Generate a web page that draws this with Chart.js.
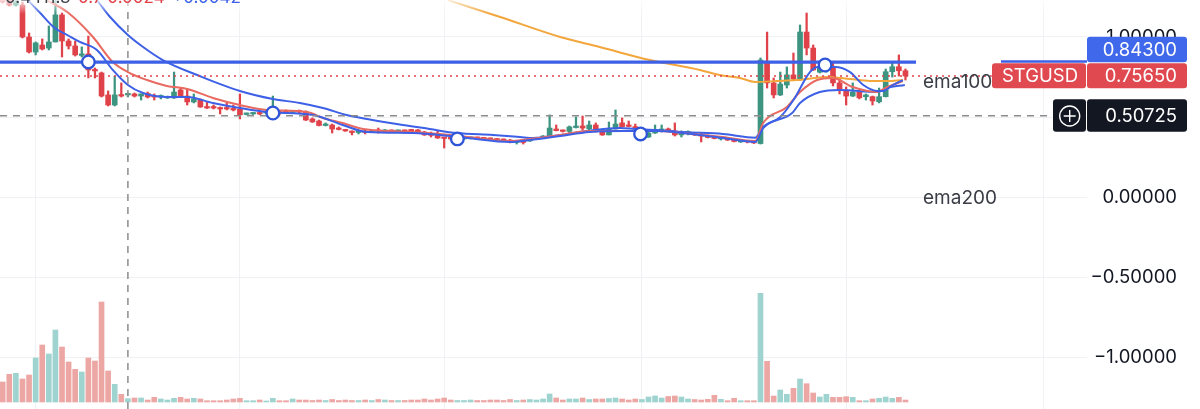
<!DOCTYPE html>
<html><head><meta charset="utf-8">
<style>html,body{margin:0;padding:0;background:#fff;overflow:hidden}canvas{display:block}</style>
<script src="https://cdn.jsdelivr.net/npm/chart.js@4/dist/chart.umd.min.js"></script>
</head><body>
<canvas id="c" width="1200" height="409" style="width:1200px;height:409px"></canvas>
<script>
const opens=[1.231,1.238,1.2,1.2,1.0,.906,.95,.931,.969,1.138,.975,.944,.885,.894,.794,.775,.638,.575,.638,.638,.644,.631,.647,.631,.625,.619,.619,.669,.631,.594,.606,.563,.563,.556,.556,.55,.55,.516,.519,.525,.525,.525,.531,.535,.528,.538,.531,.488,.475,.447,.45,.428,.419,.41,.403,.41,.406,.416,.41,.416,.41,.416,.419,.419,.406,.391,.394,.372,.369,.363,.363,.366,.372,.369,.366,.363,.36,.356,.341,.347,.35,.363,.369,.381,.425,.416,.41,.434,.444,.425,.45,.41,.388,.425,.463,.447,.44,.4,.375,.4,.41,.422,.413,.388,.4,.394,.388,.378,.372,.363,.363,.353,.344,.35,.344,.334,.844,.713,.638,.7,.763,.738,1.031,.931,.78,.79,.806,.713,.665,.631,.656,.627,.627,.595,.627,.783,.814,.789];
const closes=[1.219,1.2,1.219,1.0,.906,.963,.925,.969,1.138,.975,.944,.888,.891,.794,.788,.631,.575,.638,.631,.644,.631,.644,.625,.625,.631,.625,.656,.631,.594,.613,.563,.556,.556,.55,.55,.544,.513,.522,.525,.519,.531,.544,.525,.528,.535,.531,.481,.469,.447,.453,.425,.422,.413,.403,.41,.403,.413,.41,.416,.41,.416,.41,.413,.4,.388,.385,.369,.366,.363,.369,.369,.372,.366,.363,.36,.356,.353,.344,.347,.341,.363,.369,.381,.431,.415,.41,.438,.441,.431,.45,.41,.388,.425,.456,.44,.441,.425,.419,.4,.413,.425,.416,.388,.394,.406,.388,.381,.372,.366,.369,.356,.347,.35,.344,.338,.856,.713,.638,.706,.763,.738,1.031,.931,.794,.81,.82,.713,.669,.631,.656,.62,.638,.6,.627,.783,.814,.789,.7565];
const highs=[1.244,1.25,1.244,1.219,1.025,.969,.988,1.069,1.231,1.15,.988,.975,.938,1.006,.806,.781,.663,.756,.713,.65,.65,.644,.656,.644,.638,.631,.781,.681,.675,.644,.613,.594,.575,.563,.588,.575,.644,.525,.528,.531,.538,.631,.538,.544,.541,.544,.538,.494,.481,.463,.456,.438,.422,.413,.419,.419,.416,.431,.422,.419,.419,.419,.422,.422,.41,.406,.413,.372,.375,.375,.372,.375,.375,.372,.369,.366,.363,.36,.35,.35,.366,.372,.384,.513,.45,.419,.444,.5,.506,.475,.463,.413,.469,.544,.494,.475,.456,.425,.406,.45,.45,.431,.463,.413,.413,.4,.4,.388,.378,.372,.369,.356,.353,.353,.347,.869,1.031,.744,.781,.813,.9,1.075,1.15,.95,.85,.85,.844,.744,.688,.713,.669,.644,.631,.681,.8,.844,.888,.8];
const lows=[1.213,1.194,1.194,.994,.9,.888,.919,.919,.969,.875,.925,.881,.875,.744,.744,.625,.569,.569,.625,.625,.625,.606,.619,.606,.613,.616,.616,.625,.575,.588,.56,.553,.55,.519,.544,.538,.488,.513,.516,.513,.519,.519,.513,.525,.525,.525,.478,.466,.444,.444,.4,.419,.41,.388,.394,.394,.403,.4,.406,.406,.406,.406,.41,.397,.385,.375,.366,.306,.356,.356,.36,.363,.363,.36,.356,.353,.35,.338,.331,.331,.347,.36,.366,.381,.413,.406,.4,.431,.419,.419,.406,.385,.388,.425,.438,.438,.413,.394,.372,.397,.406,.413,.381,.375,.388,.384,.344,.369,.363,.356,.353,.344,.341,.338,.334,.331,.681,.619,.634,.681,.731,.731,.888,.791,.775,.78,.694,.644,.575,.628,.613,.606,.575,.588,.625,.75,.756,.731];
const volumes=[20,27.7,28.7,23,27,44,57,48,72,55,40,32.7,30,44,41,100,31,17.7,7.7,3.3,4,4,2,4.7,3,2,3.7,4.7,3,3.7,3,1.3,1.3,1.3,2,3,3.7,1.3,1.3,2,1,3.7,1.3,1.3,3,2,2,1.5,2,1.5,2.5,1.5,2,1.5,1.5,2,1.5,2.5,2,1.5,1.5,1.5,2,2,3,2,3,4,2,1.5,1.5,2,1.5,1.5,2,2,1.5,2.5,1.5,2,2.5,2,3,8,4,2,3,3,4,2.5,3,3,3.5,4,3,2,3,2.5,5,6,4,5.5,6,5,3,2.5,2,2.7,6.7,2.7,1.3,3.7,1.3,1.3,1.3,108.7,40.7,6,12,7.7,13.7,23,18.3,9,5,7.7,4.7,4.7,5.3,4.7,1.3,1.3,3,3.7,5,3.7,4.7,2];
const slowX=[14.3,16.3,19,21.3,24.3,29.9,36,41,45.1,48.6,52.2,55.3,59.8,64.8,68.9,74.4,78.5,80.5,84.6,88.7,93.7,96,99.3,103.2,109.3,114.2,115.4,119.8,121,124,127,132.7,134.2,136.9];
const slowY=[1.231,1.125,1.0125,.9375,.856,.756,.6625,.6125,.5875,.556,.5125,.4875,.456,.425,.4,.3875,.375,.369,.3875,.4125,.431,.425,.419,.406,.394,.371,.4375,.525,.5875,.656,.669,.656,.681,.7];
const redX=[6.7,9.8,13.7,16.7,19,21.9,24.9,28,31.9,36,40.1,46.2,48.6,51.6,54.7,62.3,67.9,70.5,77,80,84.6,89.1,95.2,99.3,103.2,109.3,114.2,115.4,119,121,123.6,126,129,132.7,133.9,136.6];
const redY=[1.231,1.156,1.0,.844,.781,.731,.694,.675,.619,.575,.544,.531,.494,.4625,.425,.406,.3875,.375,.35,.3625,.3875,.4125,.4125,.4125,.4,.375,.35,.4625,.5625,.656,.731,.744,.6875,.656,.681,.725];
const fastX=[3.8,5.7,7.9,9.8,11.7,14.3,16.7,19,21.3,24.9,28,31.9,36,40.1,47.1,51.6,55.3,62.3,67.9,70.5,77,80,84.6,89.1,94.1,99.3,103.2,109.3,114.2,115.4,118,120,122.5,123.7,126.3,128.6,130.6,132.8,133.6,135.1,136.6];
const fastY=[1.231,1.15,1.056,1.0125,.969,.919,.794,.7,.65,.625,.625,.5875,.556,.531,.5125,.45,.406,.4,.381,.369,.344,.356,.381,.406,.4125,.4125,.4,.369,.344,.431,.5,.606,.781,.8125,.8125,.781,.7,.6625,.6625,.7,.731];
const orangeX=[67.6,75.5,84.6,90.6,98.2,105.8,108.8,111.9,114.2,117.5,120.5,125.1,128.6,131.6,134.2,136.6];
const orangeY=[1.231,1.125,1.0,.9375,.856,.794,.7625,.744,.719,.725,.731,.75,.7375,.725,.725,.731];
const markerX=[13,41,69,96.8,124.8];
const markerY=[.844,.525,.363,.394,.825];
const tickLabelsY=[1,.5,0,-.5,-1];
const gridX=[5,36,67,97,128,158];
const targetPrice=.843, lastPrice=.7565, crossPrice=.50725, crossIndex=19;
const symbol="STGUSD";
const X0=-0.41,X1=164.55,Y0=-1.325,Y1=1.23125;
const pts=(xs,ys)=>xs.map((x,i)=>({x,y:ys[i]}));
const idx=opens.map((_,i)=>i);
const up=idx.map(i=>closes[i]>=opens[i]);
const GREEN='#3c9481',RED='#e0424a',BLUE='#3d60e6';
const lineDs=(data,color,w,order,extra)=>Object.assign({type:'line',data,borderColor:color,borderWidth:w,pointRadius:0,fill:false,order,xAxisID:'x',yAxisID:'y',clip:false},extra||{});
const fade={id:'fade',afterDatasetsDraw(ch){const c=ch.ctx;const g=c.createLinearGradient(0,0,0,14);g.addColorStop(0,'rgba(255,255,255,.8)');g.addColorStop(1,'rgba(255,255,255,0)');c.fillStyle=g;c.fillRect(0,0,1087,14);}};
function box(c,x,y,w,h,col){c.fillStyle=col;c.beginPath();c.roundRect(x,y,w,h,3);c.fill();}
const over={id:'over',afterDraw(ch){const c=ch.ctx;c.save();
c.textBaseline='alphabetic';c.textAlign='left';
c.font='17px Inter';
c.fillStyle='#3b3f4a';c.fillText('0.4 H1.3',5,3);
c.fillStyle='#e0424a';c.fillText('0.7 0.0024',78,3);
c.fillStyle='#3d60e6';c.fillText('+0.0042',172,3);
c.font='19px Inter';c.fillStyle='#3a3d45';c.textBaseline='middle';
c.fillText('ema100',923,82.5);c.fillText('ema200',923,198.5);
box(c,1087,36.7,100,25.6,'#3f68ea');
box(c,992,63.3,94,25,'#e0494f');box(c,1087,63.3,100,25,'#e0494f');
box(c,1053,99.3,33,32.4,'#131722');box(c,1087,99.3,100,32.4,'#131722');
c.font='18.5px Inter';c.fillStyle='#fff';c.textAlign='right';
c.fillText(targetPrice.toFixed(5),1177,50);
c.fillText(lastPrice.toFixed(5),1177,76.5);
c.fillText(crossPrice.toFixed(5),1177,116.5);
c.textAlign='left';c.fillText(symbol,1002,76.5);
c.strokeStyle='#fff';c.lineWidth=1.4;c.beginPath();c.arc(1069.7,116,10,0,Math.PI*2);c.moveTo(1063.7,116);c.lineTo(1075.7,116);c.moveTo(1069.7,110);c.lineTo(1069.7,122);c.stroke();
c.restore();}};
new Chart(document.getElementById('c'),{
type:'bar',
data:{datasets:[
{label:'volume',data:pts(idx,volumes),backgroundColor:up.map(u=>u?'#9fd3cf':'#eca6a3'),barThickness:5,minBarLength:1,grouped:false,order:20,xAxisID:'x',yAxisID:'v'},
{label:'wick',data:idx.map(i=>({x:i,y:[lows[i],highs[i]]})),backgroundColor:up.map(u=>u?GREEN:RED),barThickness:1.6,grouped:false,order:19,xAxisID:'x',yAxisID:'y'},
{label:'body',data:idx.map(i=>({x:i,y:[opens[i],closes[i]]})),backgroundColor:up.map(u=>u?GREEN:RED),barThickness:5,minBarLength:1.5,grouped:false,order:18,xAxisID:'x',yAxisID:'y'},
lineDs(pts(orangeX,orangeY),'#f2a63c',2,9,{cubicInterpolationMode:'monotone'}),
lineDs(pts(slowX,slowY),BLUE,2,8,{cubicInterpolationMode:'monotone'}),
lineDs(pts(redX,redY),'#e96a60',2,7,{cubicInterpolationMode:'monotone'}),
lineDs(pts(fastX,fastY),BLUE,2,6,{cubicInterpolationMode:'monotone'}),
lineDs(pts([X0,159.4],[crossPrice,crossPrice]),'#8c8c8c',1.5,5,{borderDash:[7,6]}),
lineDs(pts([X0,150.1],[lastPrice,lastPrice]),RED,1.5,5,{borderDash:[2,4]}),
lineDs(pts([X0,138.6],[targetPrice,targetPrice]),BLUE,3.4,4),
lineDs(pts([151.5,X1],[targetPrice+.004,targetPrice+.004]),BLUE,2.5,4),
lineDs(pts([crossIndex,crossIndex],[Y0,Y1]),'#8c8c8c',1.5,3,{borderDash:[7,6]}),
{type:'scatter',data:pts(markerX,markerY),pointRadius:6.3,pointBackgroundColor:'#fff',pointBorderColor:'#2f55d8',pointBorderWidth:2.3,showLine:false,order:1,xAxisID:'x',yAxisID:'y'}
]},
options:{responsive:false,animation:false,devicePixelRatio:1,layout:{padding:{left:0,top:0,bottom:0,right:23},autoPadding:false},
plugins:{legend:{display:false},tooltip:{enabled:false}},
events:[],
scales:{
x:{type:'linear',min:X0,max:X1,offset:false,border:{display:false},
 grid:{color:'#eff1f4',lineWidth:1,drawTicks:false,offset:false},
 ticks:{display:false},
 afterBuildTicks(s){s.ticks=gridX.map(v=>({value:v}));},
 afterFit(s){s.height=0;s.paddingLeft=0;s.paddingRight=0;}},
y:{type:'linear',position:'right',min:Y0,max:Y1,border:{display:false},
 grid:{color:'#eff1f4',lineWidth:1,drawTicks:false},
 afterBuildTicks(s){s.ticks=tickLabelsY.map(v=>({value:v}));},
 ticks:{crossAlign:'far',padding:0,color:'#131722',font:{family:'Inter',size:18.5},autoSkip:false,
  callback:v=>(v<0?'\u2212':'')+Math.abs(v).toFixed(5)},
 afterFit(s){s.width=90;s.paddingTop=0;s.paddingBottom=0;}},
v:{type:'linear',display:false,min:-7,max:402}
}
},plugins:[fade,over]});
</script>
</body></html>
